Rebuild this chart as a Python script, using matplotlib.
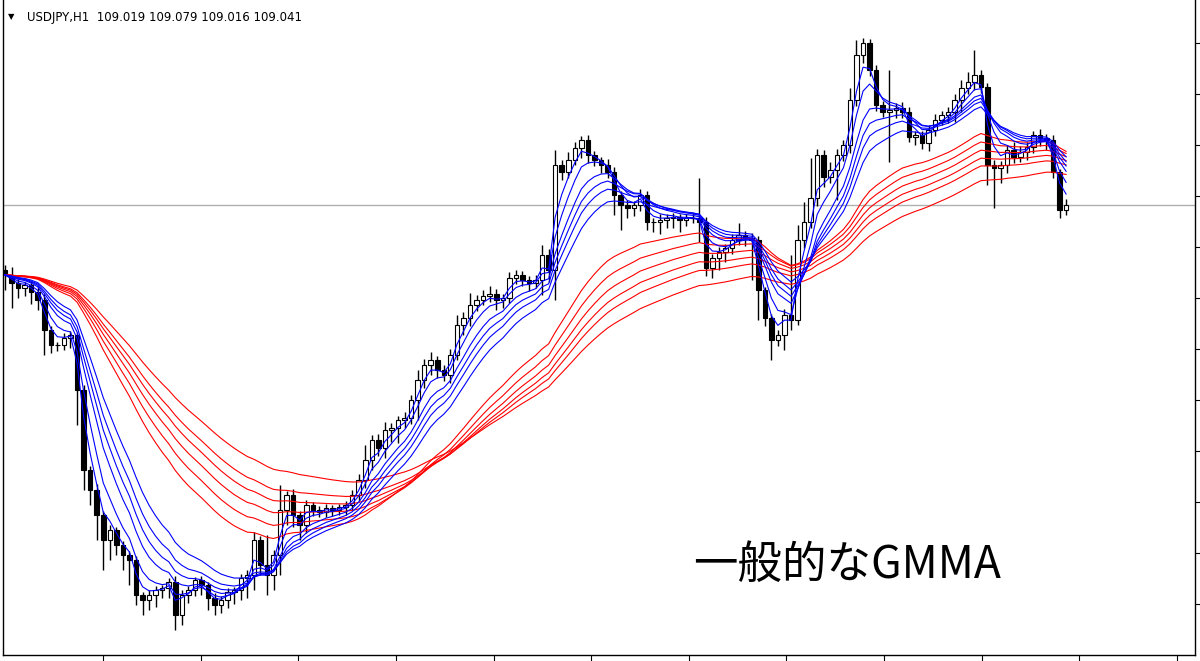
import numpy as np
import pandas as pd
import matplotlib
matplotlib.use("Agg")
import matplotlib.pyplot as plt

# close levels, in screen-pixel units (converted to price below)
close_px = [275,283,288,285,292,300,330,345,345,338,335,390,470,490,515,540,530,545,555,560,
            595,600,595,590,588,582,615,595,590,580,585,598,605,600,592,590,578,575,540,565,
            575,555,510,495,515,525,505,510,512,508,510,507,505,495,480,460,440,448,430,428,
            420,418,400,380,365,360,370,375,355,325,318,305,300,296,294,300,298,278,275,280,
            283,280,255,270,165,172,160,148,140,155,160,165,172,195,205,208,205,195,222,222,
            220,218,217,220,218,218,222,268,258,252,248,240,235,238,240,290,318,340,335,315,
            320,240,222,198,155,177,170,155,145,100,55,43,70,105,112,110,108,112,137,135,
            143,130,120,115,112,100,88,82,75,87,165,168,165,150,157,152,147,135,138,140,
            172,210,205]
# wick extensions beyond the body, in pixels
up_wick = [5,8,4,3,4,5,6,4,3,5,4,3,5,4,6,4,5,3,4,4,
           4,3,5,4,3,4,6,5,4,3,4,3,5,4,4,3,4,5,8,4,
           30,5,25,4,6,4,5,3,4,4,3,3,4,5,6,15,5,6,8,5,
           4,6,5,10,6,8,4,5,6,10,6,12,5,6,8,5,4,6,5,4,
           4,5,10,6,15,5,8,6,4,5,4,3,6,5,4,5,4,6,4,4,
           6,4,4,3,4,5,40,5,4,5,4,6,12,4,5,4,3,4,5,6,
           60,15,20,40,6,5,8,6,5,12,15,5,4,5,4,40,5,6,5,4,
           4,5,6,4,5,6,8,10,25,5,4,5,4,5,8,6,5,4,6,4,
           5,3,6]
dn_wick = [15,25,10,8,12,10,25,8,6,5,10,35,20,15,25,30,20,10,15,25,
           10,15,10,12,8,10,15,10,8,6,10,12,10,8,8,12,10,20,15,10,
           20,15,20,15,12,15,8,6,5,5,6,5,8,5,6,8,10,8,10,12,
           15,8,6,20,8,10,8,6,8,5,10,8,6,5,6,10,8,5,6,6,
           8,5,15,12,30,8,6,5,10,8,6,8,6,20,25,10,8,6,8,10,
           12,8,10,12,6,5,20,8,10,12,10,6,5,8,40,30,8,20,6,15,
           10,5,8,6,8,10,6,30,6,8,6,8,6,6,5,50,8,6,5,8,
           6,8,6,5,8,10,12,6,8,6,20,40,15,8,6,5,8,6,8,10,
           6,8,5]

short_periods = [3, 5, 8, 10, 12, 15]
long_periods = [30, 35, 40, 45, 50, 60]
ref_price, ref_px, px_step = 109.041, 205, 0.004

def to_price(v):
    return ref_price + (ref_px - np.asarray(v, float)) * px_step

close = to_price(close_px)
opn = np.concatenate([[to_price(270)], close[:-1]])
high = np.maximum(opn, close) + np.asarray(up_wick) * px_step
low = np.minimum(opn, close) - np.asarray(dn_wick) * px_step
n = len(close)
x = np.arange(n)

fig = plt.figure(figsize=(12, 6.61), dpi=100)
ax = fig.add_axes([3/1200, 6/661, 1192/1200, 655/661])

for i in range(n):
    ax.vlines(x[i], low[i], high[i], color='black', lw=1, zorder=2)
    b0, b1 = sorted([opn[i], close[i]])
    h = max(b1 - b0, 0.0015)
    bull = close[i] >= opn[i]
    ax.add_patch(plt.Rectangle((x[i]-0.35, b0), 0.7, h, facecolor='white' if bull else 'black',
                               edgecolor='black', lw=0.8, zorder=3))

s = pd.Series(close)
for p in long_periods:
    ax.plot(x, s.ewm(span=p, adjust=False).mean(), color='red', lw=0.8, zorder=4)
for p in short_periods:
    ax.plot(x, s.ewm(span=p, adjust=False).mean(), color='blue', lw=0.8, zorder=5)

ax.axhline(ref_price, color='#b0b0b0', lw=1, zorder=1)

ax.set_xlim(-2/6.55, 1190/6.55)
ax.set_ylim(to_price(655), to_price(0))
ax.set_xticks(np.arange(15, 180, 14.9))
ax.set_xticklabels([])
ax.set_yticks(to_price(np.arange(43, 655, 51)))
ax.set_yticklabels([])
ax.yaxis.tick_right()
ax.tick_params(axis='both', direction='out', length=5, color='black')
ax.spines['top'].set_visible(False)
for sp in ['left', 'right', 'bottom']:
    ax.spines[sp].set_linewidth(1)

fig.text(8/1200, 1 - 17/661, '▼', fontsize=6, va='center', family=['DejaVu Sans'])
fig.text(27/1200, 1 - 17/661, 'USDJPY,H1  109.019 109.079 109.016 109.041', fontsize=8.5,
         va='center', family=['DejaVu Sans'])
fig.text(693/1200, 1 - 565/661, '一般的なGMMA', fontsize=32, va='center',
         family=['Noto Sans CJK JP', 'DejaVu Sans'])

fig.savefig('out.png', dpi=100, facecolor='white')
